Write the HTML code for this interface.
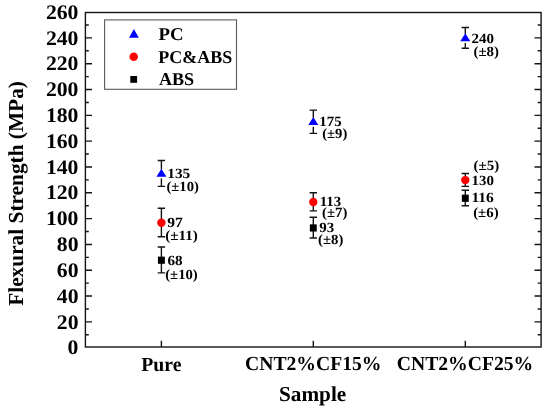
<!DOCTYPE html>
<html><head><meta charset="utf-8"><title>Flexural Strength</title>
<style>
html,body{margin:0;padding:0;background:#fff;}
svg{display:block;}
text{text-rendering:geometricPrecision;font-family:"Liberation Serif","Times New Roman",serif;font-weight:bold;fill:#000;}
</style></head><body>
<svg width="550" height="410" viewBox="0 0 550 410">
<rect x="85.4" y="12.5" width="455.7" height="334.5" fill="none" stroke="#141414" stroke-width="1.4"/>
<path d="M85.4 334.79H88.8M541.1 334.79H537.7" stroke="#141414" stroke-width="1.4"/>
<path d="M85.4 321.88H92.0M541.1 321.88H534.5" stroke="#141414" stroke-width="1.4"/>
<path d="M85.4 308.97H88.8M541.1 308.97H537.7" stroke="#141414" stroke-width="1.4"/>
<path d="M85.4 296.06H92.0M541.1 296.06H534.5" stroke="#141414" stroke-width="1.4"/>
<path d="M85.4 283.15H88.8M541.1 283.15H537.7" stroke="#141414" stroke-width="1.4"/>
<path d="M85.4 270.25H92.0M541.1 270.25H534.5" stroke="#141414" stroke-width="1.4"/>
<path d="M85.4 257.34H88.8M541.1 257.34H537.7" stroke="#141414" stroke-width="1.4"/>
<path d="M85.4 244.43H92.0M541.1 244.43H534.5" stroke="#141414" stroke-width="1.4"/>
<path d="M85.4 231.52H88.8M541.1 231.52H537.7" stroke="#141414" stroke-width="1.4"/>
<path d="M85.4 218.61H92.0M541.1 218.61H534.5" stroke="#141414" stroke-width="1.4"/>
<path d="M85.4 205.7H88.8M541.1 205.7H537.7" stroke="#141414" stroke-width="1.4"/>
<path d="M85.4 192.79H92.0M541.1 192.79H534.5" stroke="#141414" stroke-width="1.4"/>
<path d="M85.4 179.88H88.8M541.1 179.88H537.7" stroke="#141414" stroke-width="1.4"/>
<path d="M85.4 166.97H92.0M541.1 166.97H534.5" stroke="#141414" stroke-width="1.4"/>
<path d="M85.4 154.06H88.8M541.1 154.06H537.7" stroke="#141414" stroke-width="1.4"/>
<path d="M85.4 141.16H92.0M541.1 141.16H534.5" stroke="#141414" stroke-width="1.4"/>
<path d="M85.4 128.25H88.8M541.1 128.25H537.7" stroke="#141414" stroke-width="1.4"/>
<path d="M85.4 115.34H92.0M541.1 115.34H534.5" stroke="#141414" stroke-width="1.4"/>
<path d="M85.4 102.43H88.8M541.1 102.43H537.7" stroke="#141414" stroke-width="1.4"/>
<path d="M85.4 89.52H92.0M541.1 89.52H534.5" stroke="#141414" stroke-width="1.4"/>
<path d="M85.4 76.61H88.8M541.1 76.61H537.7" stroke="#141414" stroke-width="1.4"/>
<path d="M85.4 63.7H92.0M541.1 63.7H534.5" stroke="#141414" stroke-width="1.4"/>
<path d="M85.4 50.79H88.8M541.1 50.79H537.7" stroke="#141414" stroke-width="1.4"/>
<path d="M85.4 37.88H92.0M541.1 37.88H534.5" stroke="#141414" stroke-width="1.4"/>
<path d="M85.4 24.98H88.8M541.1 24.98H537.7" stroke="#141414" stroke-width="1.4"/>
<path d="M161.4 347.0V340.7" stroke="#141414" stroke-width="1.4"/>
<path d="M313.3 347.0V340.7" stroke="#141414" stroke-width="1.4"/>
<path d="M465.3 347.0V340.7" stroke="#141414" stroke-width="1.4"/>
<rect x="104.6" y="19.9" width="131.9" height="69.4" fill="none" stroke="#5a5a5a" stroke-width="1.1"/>
<polygon points="129.00,37.70 138.80,37.70 133.90,28.90" fill="#0000ff"/>
<circle cx="133.70" cy="56.70" r="4.25" fill="#ff0000"/>
<rect x="130.30" y="76.00" width="6.8" height="6.8" fill="#000"/>
<path d="M161.4 160.52V169.43M161.4 178.43V186.34M157.70 160.52H165.10M157.70 186.34H165.10" stroke="#141414" stroke-width="1.4" fill="none"/>
<polygon points="156.40,176.73 166.40,176.73 161.40,168.73" fill="#0000ff"/>
<path d="M161.4 208.28V236.68M157.70 208.28H165.10M157.70 236.68H165.10" stroke="#141414" stroke-width="1.4" fill="none"/>
<circle cx="161.40" cy="222.68" r="4.2" fill="#ff0000"/>
<path d="M161.4 247.01V272.83M157.70 247.01H165.10M157.70 272.83H165.10" stroke="#141414" stroke-width="1.4" fill="none"/>
<rect x="157.95" y="256.62" width="6.9" height="7.2" fill="#000"/>
<path d="M313.3 110.17V117.79M313.3 126.79V133.41M309.60 110.17H317.00M309.60 133.41H317.00" stroke="#141414" stroke-width="1.4" fill="none"/>
<polygon points="308.30,125.09 318.30,125.09 313.30,117.09" fill="#0000ff"/>
<path d="M313.3 192.79V210.86M309.60 192.79H317.00M309.60 210.86H317.00" stroke="#141414" stroke-width="1.4" fill="none"/>
<circle cx="313.30" cy="202.03" r="4.2" fill="#ff0000"/>
<path d="M313.3 217.32V237.97M309.60 217.32H317.00M309.60 237.97H317.00" stroke="#141414" stroke-width="1.4" fill="none"/>
<rect x="309.85" y="224.35" width="6.9" height="7.2" fill="#000"/>
<path d="M465.3 27.56V33.88M465.3 42.88V48.21M461.60 27.56H469.00M461.60 48.21H469.00" stroke="#141414" stroke-width="1.4" fill="none"/>
<polygon points="460.30,41.18 470.30,41.18 465.30,33.18" fill="#0000ff"/>
<path d="M465.3 173.43V186.34M461.60 173.43H469.00M461.60 186.34H469.00" stroke="#141414" stroke-width="1.4" fill="none"/>
<circle cx="465.30" cy="180.08" r="4.2" fill="#ff0000"/>
<path d="M465.3 190.21V205.70M461.60 190.21H469.00M461.60 205.70H469.00" stroke="#141414" stroke-width="1.4" fill="none"/>
<rect x="461.85" y="194.66" width="6.9" height="7.2" fill="#000"/>
<text transform="translate(167.19 178.10) scale(1.098 1)" font-size="14">135</text>
<text transform="translate(166.47 190.90) scale(1.044 1)" font-size="14">(±10)</text>
<text transform="translate(167.36 227.20) scale(1.105 1)" font-size="14">97</text>
<text transform="translate(165.15 240.40) scale(1.076 1)" font-size="14">(±11)</text>
<text transform="translate(167.46 264.55) scale(1.077 1)" font-size="14">68</text>
<text transform="translate(165.17 278.55) scale(1.050 1)" font-size="14">(±10)</text>
<text transform="translate(319.34 126.15) scale(1.057 1)" font-size="14">175</text>
<text transform="translate(322.17 138.40) scale(1.048 1)" font-size="14">(±9)</text>
<text transform="translate(319.63 206.40) scale(1.065 1)" font-size="14">113</text>
<text transform="translate(322.07 217.15) scale(1.053 1)" font-size="14">(±7)</text>
<text transform="translate(319.27 232.20) scale(1.069 1)" font-size="14">93</text>
<text transform="translate(318.07 243.50) scale(1.053 1)" font-size="14">(±8)</text>
<text transform="translate(471.46 42.55) scale(1.070 1)" font-size="14">240</text>
<text transform="translate(473.46 55.70) scale(1.061 1)" font-size="14">(±8)</text>
<text transform="translate(473.46 169.85) scale(1.070 1)" font-size="14">(±5)</text>
<text transform="translate(471.53 184.55) scale(1.067 1)" font-size="14">130</text>
<text transform="translate(471.48 202.40) scale(1.107 1)" font-size="14">116</text>
<text transform="translate(473.16 216.70) scale(1.061 1)" font-size="14">(±6)</text>
<text transform="translate(158.49 40.10) scale(1.045 1)" font-size="18">PC</text>
<text transform="translate(158.30 62.80) scale(0.999 1)" font-size="18">PC&amp;ABS</text>
<text transform="translate(158.90 85.30) scale(1.006 1)" font-size="18">ABS</text>
<text transform="translate(141.30 370.50) scale(0.987 1)" font-size="20">Pure</text>
<text transform="translate(245.12 370.35) scale(0.981 1)" font-size="20">CNT2%CF15%</text>
<text transform="translate(396.82 370.35) scale(0.982 1)" font-size="20">CNT2%CF25%</text>
<text transform="translate(279.01 400.60) scale(0.995 1)" font-size="21.33">Sample</text>
<text transform="translate(67.62 354.40) scale(1.050 1)" font-size="20.7">0</text>
<text transform="translate(56.81 328.58) scale(1.050 1)" font-size="20.7">20</text>
<text transform="translate(56.81 302.76) scale(1.050 1)" font-size="20.7">40</text>
<text transform="translate(56.81 276.95) scale(1.050 1)" font-size="20.7">60</text>
<text transform="translate(56.81 251.13) scale(1.050 1)" font-size="20.7">80</text>
<text transform="translate(45.89 225.31) scale(1.050 1)" font-size="20.7">100</text>
<text transform="translate(45.89 199.49) scale(1.050 1)" font-size="20.7">120</text>
<text transform="translate(45.89 173.67) scale(1.050 1)" font-size="20.7">140</text>
<text transform="translate(45.89 147.86) scale(1.050 1)" font-size="20.7">160</text>
<text transform="translate(45.89 122.04) scale(1.050 1)" font-size="20.7">180</text>
<text transform="translate(45.89 96.22) scale(1.050 1)" font-size="20.7">200</text>
<text transform="translate(45.89 70.40) scale(1.050 1)" font-size="20.7">220</text>
<text transform="translate(45.89 44.58) scale(1.050 1)" font-size="20.7">240</text>
<text transform="translate(45.89 18.77) scale(1.050 1)" font-size="20.7">260</text>
<text transform="translate(22.6 305.80) rotate(-90)" font-size="21.33">Flexural Strength (MPa)</text>
</svg>
</body></html>
